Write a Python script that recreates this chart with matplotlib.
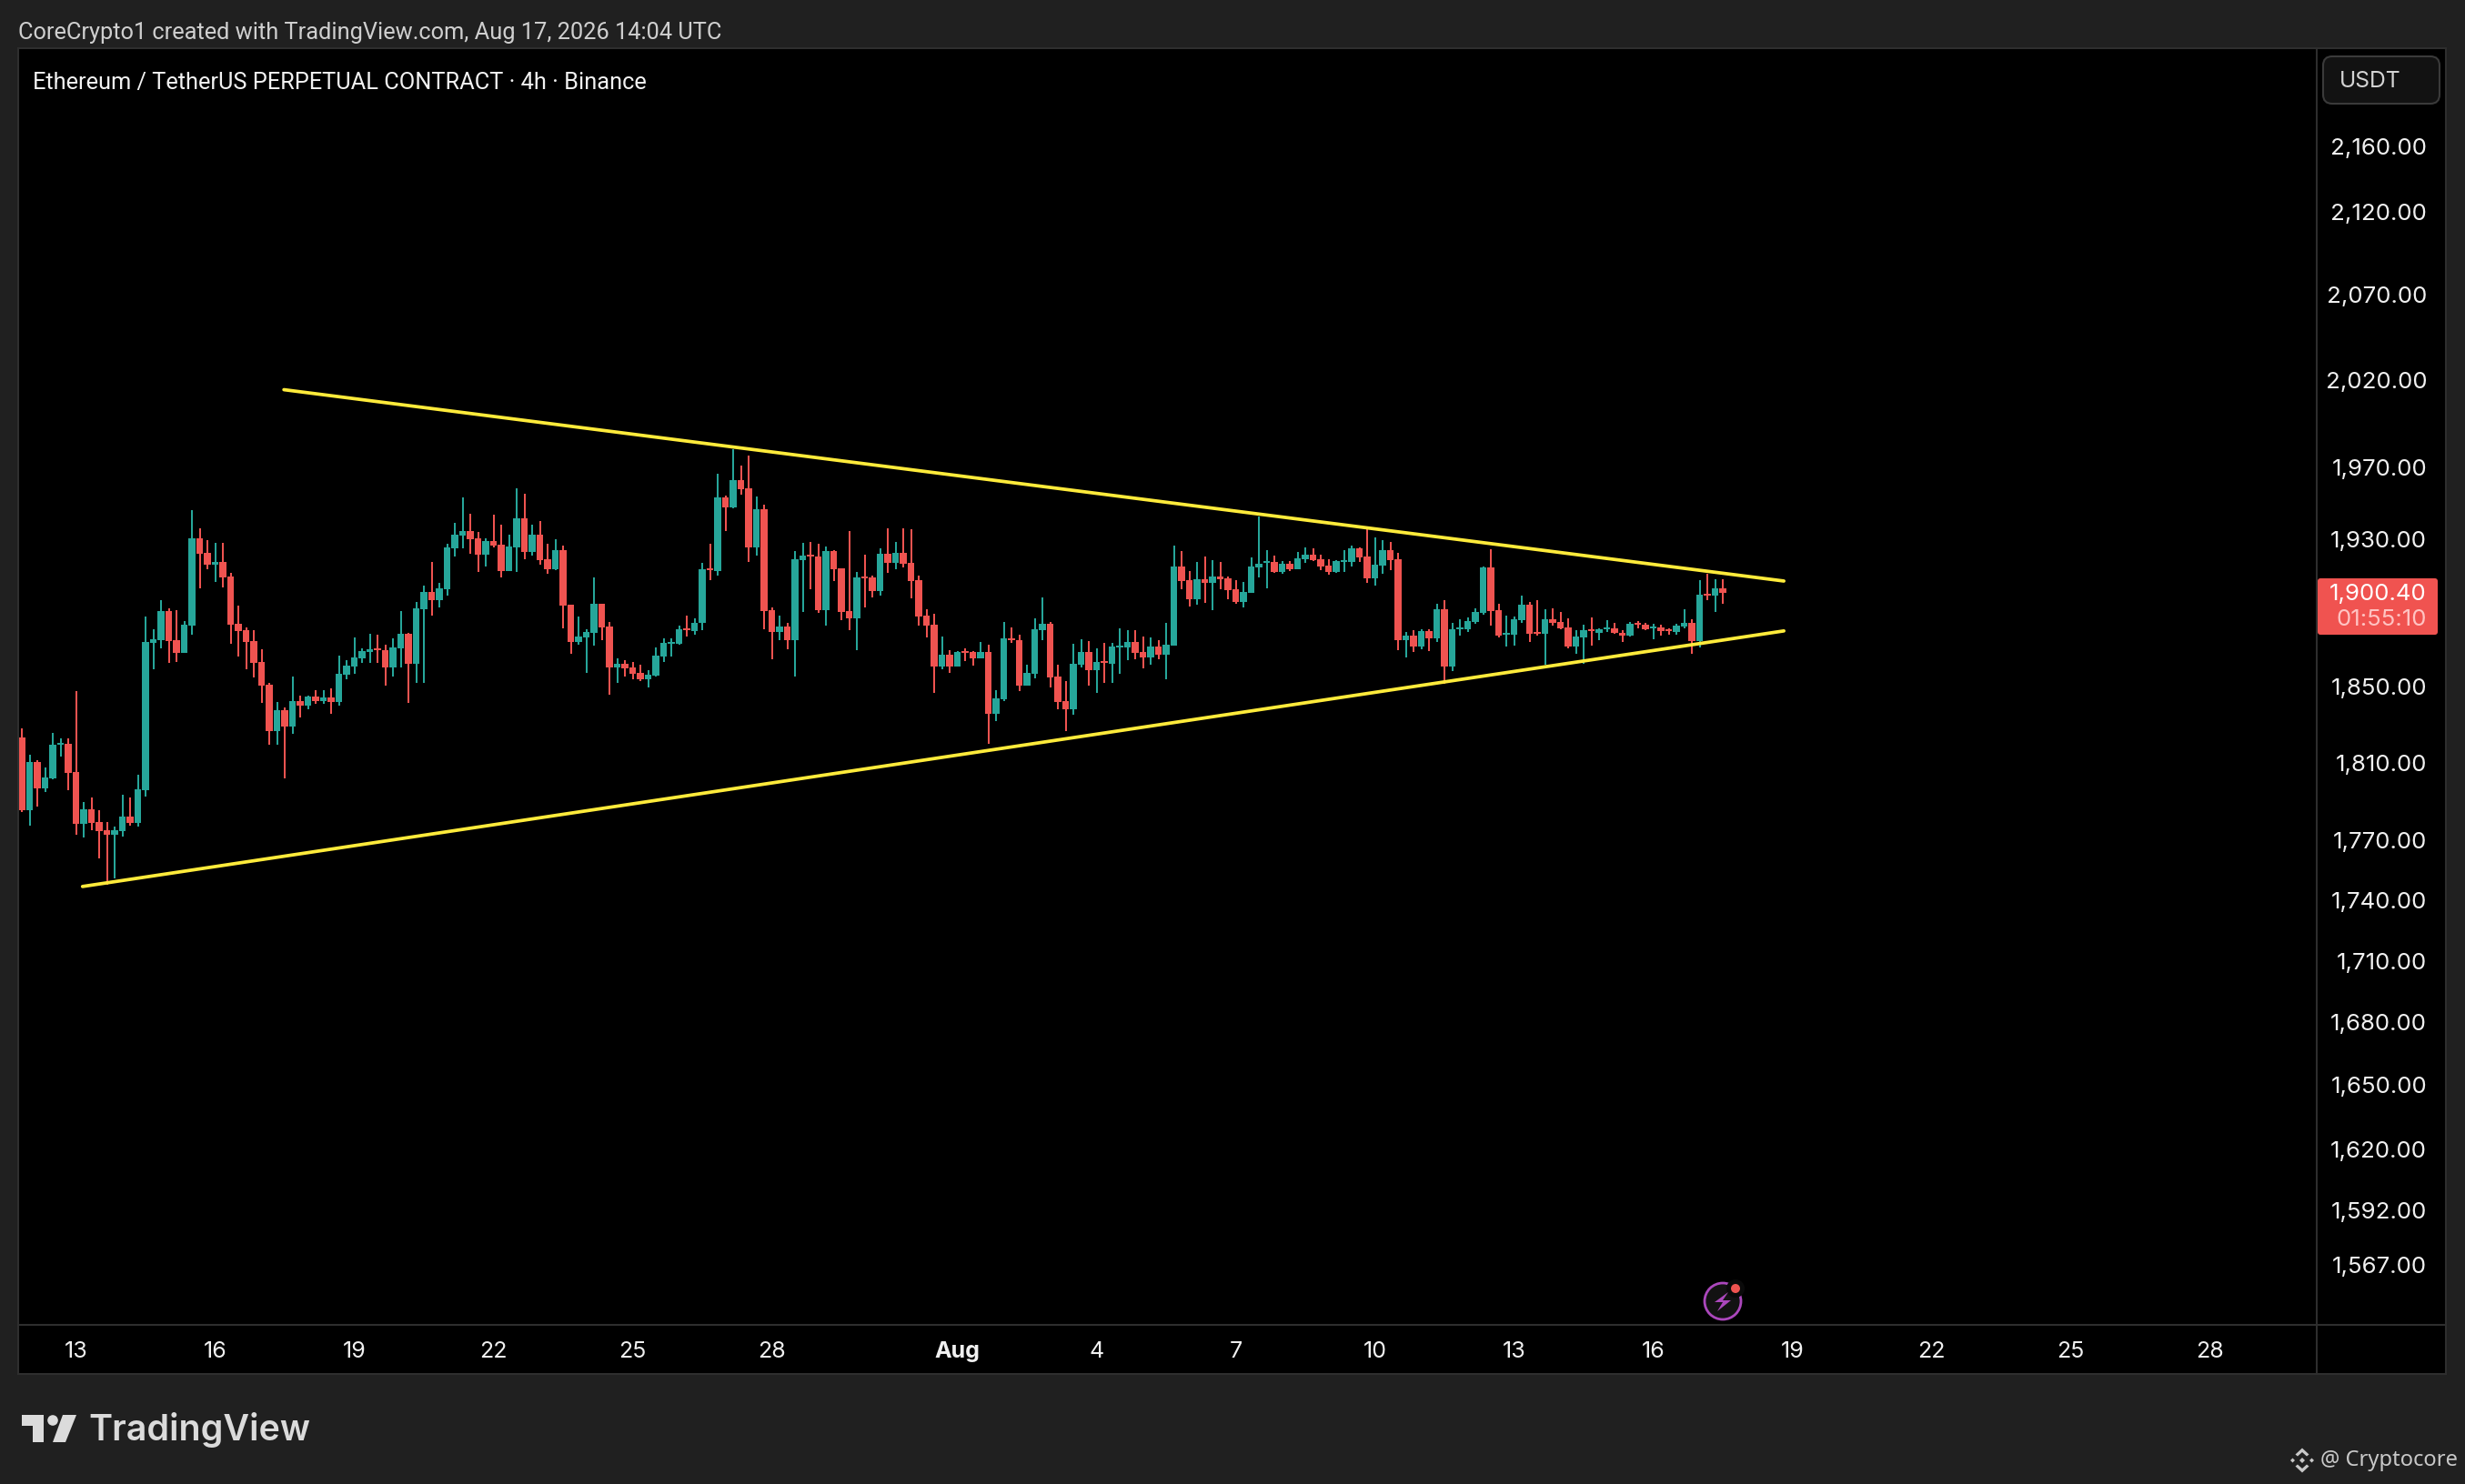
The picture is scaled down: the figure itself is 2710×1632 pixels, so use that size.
import matplotlib
matplotlib.use("Agg")
import matplotlib.pyplot as plt
from matplotlib.patches import FancyBboxPatch, Polygon, Circle, Rectangle
from matplotlib.lines import Line2D
import numpy as np

plt.rcParams['font.family'] = ['Inter', 'DejaVu Sans']

# ---- data: 4h candles (price in USDT) ----
directions = ("RGRGGGRRGR" "RRGGRGGGGR" "RGGRRGRRRR" "RRRGRGRGRG" "RGGGGGRRGG"
              "RGGRGGGGRR" "GRRGGRGRRG" "RRGGGRRGRR" "RGGGGGRGGR" "GRGRRGRRGR"
              "GGRRGRRRGR" "RGRGRRRRRG" "RGRRGRGGRR" "GGGRRRGGRG" "RGGGRRGRGG"
              "RRGRGRRRGG" "GGRGRGGRRR" "GGGRRGGRRG" "RGRGRGGGGG" "RRGGGRRGRR"
              "RGGRGGRRGR" "RGRRGGRGRGR")

wick_high = [
 1827.8,1814.1,1811.3,1807.5,1825.5,1822.6,1822.6,1847.5,1789.8,1792.1,
 1785.6,1779.6,1777.2,1793.5,1792.1,1803.8,1887.5,1880.6,1896.4,1892.0,
 1891.0,1885.1,1946.0,1935.9,1929.3,1927.8,1927.8,1911.3,1893.4,1881.6,
 1880.1,1869.9,1851.9,1841.7,1838.9,1855.2,1845.1,1845.1,1848.0,1848.0,
 1849.0,1866.4,1864.0,1876.2,1870.3,1878.2,1877.7,1872.3,1875.7,1890.5,
 1878.7,1895.4,1904.3,1917.3,1905.8,1927.3,1938.9,1953.1,1943.9,1933.9,
 1930.3,1943.4,1937.9,1932.3,1958.2,1955.2,1937.9,1939.9,1927.3,1929.8,
 1926.3,1893.9,1887.5,1880.6,1908.8,1894.4,1884.6,1865.0,1864.0,1863.0,
 1861.5,1858.6,1870.8,1875.7,1875.7,1882.6,1888.0,1886.5,1916.8,1927.3,
 1966.4,1954.1,1980.3,1971.0,1976.7,1953.6,1949.0,1892.4,1888.0,1884.1,
 1923.3,1927.8,1928.3,1927.3,1925.8,1923.8,1913.8,1934.4,1911.8,1921.3,
 1909.8,1924.8,1935.9,1928.3,1935.9,1935.4,1909.8,1891.5,1889.0,1876.7,
 1869.4,1868.9,1870.3,1868.9,1873.8,1872.3,1848.0,1884.6,1881.6,1877.7,
 1861.5,1886.5,1897.9,1884.6,1861.5,1852.8,1872.8,1875.2,1874.3,1870.3,
 1873.3,1873.3,1881.1,1880.1,1880.1,1876.7,1876.2,1874.7,1884.1,1926.3,
 1923.3,1912.3,1917.3,1920.3,1918.3,1917.3,1909.3,1907.3,1906.3,1919.8,
 1942.4,1923.8,1920.8,1917.8,1917.8,1922.8,1925.3,1924.8,1921.3,1918.8,
 1918.3,1923.8,1926.3,1925.3,1936.9,1931.0,1929.3,1928.3,1922.3,1879.1,
 1880.1,1880.6,1880.6,1894.4,1896.4,1884.1,1886.1,1887.0,1892.0,1914.8,
 1924.3,1894.4,1888.0,1887.5,1898.8,1895.4,1896.4,1891.5,1892.0,1890.0,
 1886.5,1880.1,1883.1,1887.0,1881.1,1885.6,1884.1,1880.1,1884.6,1885.1,
 1884.1,1883.6,1883.1,1881.1,1883.6,1891.5,1886.1,1907.3,1910.8,1907.8,1907.8]

body_top = [
 1823.1,1810.3,1810.3,1802.4,1819.4,1820.2,1819.8,1805.2,1786.1,1786.1,
 1779.6,1775.4,1775.4,1782.3,1782.3,1796.3,1873.8,1875.2,1890.5,1890.5,
 1874.7,1883.1,1930.3,1930.3,1922.3,1917.3,1917.3,1909.3,1883.6,1880.1,
 1874.3,1863.0,1850.9,1837.4,1837.4,1842.2,1842.2,1844.6,1844.6,1844.1,
 1844.1,1856.7,1861.0,1865.4,1868.9,1869.9,1870.3,1869.4,1870.8,1878.2,
 1878.2,1892.0,1900.8,1900.8,1902.8,1925.3,1932.3,1934.4,1934.4,1930.3,
 1928.8,1928.8,1926.8,1925.8,1941.4,1941.4,1932.3,1932.3,1918.8,1923.8,
 1923.8,1893.9,1876.7,1879.1,1894.4,1894.4,1882.1,1862.0,1862.0,1860.1,
 1857.2,1856.2,1866.4,1873.3,1873.8,1880.6,1881.1,1884.1,1913.3,1913.8,
 1953.1,1953.1,1962.8,1962.8,1958.2,1946.5,1946.5,1891.0,1882.1,1882.1,
 1918.8,1920.8,1921.3,1920.3,1923.3,1923.3,1913.8,1890.5,1908.8,1909.3,
 1908.8,1921.8,1921.8,1922.3,1922.3,1916.8,1907.3,1888.0,1883.1,1866.9,
 1866.9,1868.4,1868.9,1868.4,1868.4,1868.4,1843.7,1875.7,1875.7,1874.7,
 1857.2,1880.6,1883.6,1883.6,1855.2,1842.2,1862.0,1868.4,1868.4,1863.0,
 1863.5,1871.3,1871.8,1873.8,1873.8,1868.4,1871.3,1871.3,1872.3,1915.0,
 1915.0,1907.3,1907.8,1907.8,1909.3,1909.3,1908.3,1902.3,1900.8,1914.8,
 1916.3,1917.8,1917.3,1916.3,1916.3,1919.3,1921.3,1921.3,1918.8,1915.3,
 1917.8,1918.3,1924.8,1924.8,1920.3,1915.8,1923.8,1923.8,1918.8,1877.2,
 1877.2,1879.6,1879.6,1891.5,1891.5,1880.6,1881.6,1885.1,1890.0,1914.3,
 1914.3,1891.0,1878.7,1886.1,1893.9,1893.9,1879.1,1886.1,1886.1,1884.6,
 1881.6,1876.7,1880.1,1880.6,1880.6,1881.6,1881.1,1878.7,1883.6,1884.1,
 1883.1,1882.1,1881.6,1880.6,1882.6,1884.1,1884.1,1899.3,1899.8,1902.8,1902.8]

body_bottom = [
 1785.6,1785.6,1796.7,1796.7,1801.9,1819.4,1804.7,1778.6,1778.6,1779.1,
 1774.9,1773.1,1773.1,1774.9,1779.1,1779.1,1795.8,1873.3,1874.7,1874.3,
 1867.9,1867.9,1882.6,1921.8,1915.8,1915.8,1908.8,1883.1,1879.7,1873.8,
 1862.5,1850.4,1826.4,1826.4,1828.8,1828.8,1839.8,1839.8,1842.2,1842.2,
 1841.7,1841.7,1856.2,1860.6,1865.0,1868.4,1869.4,1860.1,1860.1,1870.3,
 1862.0,1862.0,1891.5,1896.4,1896.4,1902.3,1924.8,1931.8,1929.8,1921.3,
 1921.3,1926.3,1912.3,1912.3,1925.3,1922.8,1922.8,1918.3,1913.3,1913.3,
 1893.4,1873.8,1873.8,1876.2,1878.7,1881.6,1860.1,1860.1,1859.6,1856.7,
 1853.8,1853.8,1855.7,1866.0,1872.8,1872.8,1880.1,1879.7,1884.1,1912.8,
 1912.3,1947.5,1947.5,1957.7,1925.3,1925.3,1890.5,1879.1,1879.1,1874.7,
 1874.7,1918.3,1920.3,1891.0,1891.0,1913.3,1890.0,1886.5,1886.5,1908.3,
 1901.3,1901.3,1916.8,1916.8,1916.3,1906.8,1887.5,1882.6,1860.6,1860.6,
 1860.6,1860.6,1867.9,1865.0,1865.0,1835.5,1835.5,1843.2,1874.7,1850.4,
 1850.4,1856.7,1880.1,1854.8,1841.7,1837.9,1837.9,1861.5,1858.6,1858.6,
 1862.5,1862.0,1870.8,1870.8,1867.9,1865.4,1865.4,1866.9,1866.9,1871.8,
 1906.8,1896.9,1896.9,1905.8,1905.8,1907.8,1901.8,1895.4,1895.4,1900.3,
 1914.3,1916.8,1911.8,1911.8,1913.3,1913.3,1918.8,1918.3,1914.8,1911.8,
 1911.8,1917.3,1917.3,1919.8,1908.3,1908.3,1915.3,1918.3,1874.7,1874.7,
 1871.3,1871.3,1875.7,1875.7,1860.6,1860.6,1880.6,1880.6,1884.6,1889.5,
 1890.5,1877.2,1877.7,1877.7,1885.6,1878.2,1878.2,1878.2,1884.1,1881.1,
 1871.3,1871.3,1876.2,1879.6,1878.7,1880.6,1878.7,1877.2,1877.2,1883.1,
 1880.6,1881.1,1879.6,1879.6,1879.1,1882.1,1874.3,1874.3,1898.8,1898.8,1900.4]

wick_low = [
 1784.7,1777.7,1787.4,1794.9,1801.4,1813.1,1795.8,1773.1,1771.7,1775.4,
 1761.1,1747.6,1750.9,1772.2,1777.7,1777.2,1792.6,1859.1,1870.3,1862.5,
 1863.0,1867.9,1877.7,1902.8,1913.3,1906.3,1903.3,1872.8,1866.0,1859.1,
 1854.8,1841.3,1819.4,1819.4,1801.9,1825.0,1833.6,1837.9,1840.8,1840.8,
 1835.5,1839.8,1853.8,1856.7,1862.5,1862.5,1862.5,1850.4,1855.2,1860.1,
 1841.3,1851.9,1851.9,1888.0,1892.4,1898.8,1920.3,1924.8,1921.8,1911.8,
 1914.8,1925.3,1908.8,1912.3,1911.8,1918.8,1920.8,1915.8,1910.8,1912.8,
 1881.1,1867.4,1872.3,1857.2,1871.8,1874.7,1845.6,1851.9,1855.2,1853.8,
 1852.8,1849.4,1855.2,1863.0,1866.0,1872.3,1876.7,1877.7,1880.1,1907.3,
 1909.8,1934.4,1947.0,1954.7,1917.3,1920.8,1880.6,1864.4,1874.7,1869.9,
 1855.2,1890.0,1902.3,1889.5,1882.6,1906.8,1885.6,1880.1,1869.4,1892.4,
 1897.9,1898.8,1911.3,1913.3,1914.3,1897.4,1882.6,1876.2,1846.6,1859.1,
 1857.2,1860.6,1863.5,1861.0,1865.0,1819.8,1831.6,1842.2,1873.3,1847.5,
 1850.4,1854.3,1874.7,1849.4,1837.9,1826.4,1835.0,1860.1,1850.4,1846.6,
 1851.9,1851.9,1856.7,1864.0,1864.4,1859.6,1861.5,1864.4,1853.8,1871.8,
 1902.3,1893.0,1893.9,1894.9,1891.0,1902.3,1896.9,1894.4,1892.4,1900.3,
 1908.8,1902.8,1911.3,1910.8,1912.3,1913.3,1916.8,1917.8,1912.8,1910.3,
 1911.3,1911.8,1914.8,1917.3,1905.8,1904.3,1910.8,1912.8,1869.4,1865.4,
 1868.4,1869.9,1868.9,1873.8,1851.4,1858.1,1877.2,1879.1,1883.6,1888.5,
 1882.6,1876.2,1871.3,1871.8,1884.1,1873.8,1877.2,1861.5,1882.6,1880.6,
 1870.3,1867.4,1862.0,1871.8,1874.7,1879.1,1878.2,1873.8,1876.7,1881.1,
 1880.1,1875.2,1877.2,1877.7,1877.7,1881.1,1867.4,1870.8,1896.4,1890.0,1894.4]

# two trend lines: (candle position, price) of their two ends
upper_x, upper_p = [33.9, 227.9], [2014.4, 1906.8]
lower_x, lower_p = [7.85, 227.9], [1746.8, 1879.7]

price_ticks = [2160, 2120, 2070, 2020, 1970, 1930, 1850, 1810, 1770, 1740,
               1710, 1680, 1650, 1620, 1592, 1567]
date_pos = [7, 25, 43, 61, 79, 97, 121, 139, 157, 175, 193, 211, 229, 247, 265, 283]
date_labels = ['13', '16', '19', '22', '25', '28', 'Aug', '4', '7', '10', '13',
               '16', '19', '22', '25', '28']
last_price = "1,900.40"
countdown = "01:55:10"

# ---- layout ----
W, H = 2710, 1632
BG, LINE = '#202020', '#2e2e2e'
RED, GREEN, YELLOW = '#ef5350', '#26a69a', '#ffeb3b'
fig = plt.figure(figsize=(W / 100, H / 100), dpi=100, facecolor=BG)

def rect(x0, y0, x1, y1):
    return [x0 / W, 1 - y1 / H, (x1 - x0) / W, (y1 - y0) / H]

# back layer: panes and their borders, in figure pixels
back = fig.add_axes([0, 0, 1, 1], zorder=0)
back.set_xlim(0, W); back.set_ylim(H, 0); back.axis('off')
back.add_patch(Rectangle((20, 53), 2669, 1458, fc='black', ec=LINE, lw=1.5))
back.add_line(Line2D([2547, 2547], [53, 1511], color=LINE, lw=1.5))
back.add_line(Line2D([20, 2689], [1457, 1457], color=LINE, lw=1.5))

# main chart
PX_L, PX_R, PX_T, PX_B = 21, 2546, 54, 1456
ax = fig.add_axes(rect(PX_L, PX_T, PX_R, PX_B), zorder=1)
ax.patch.set_alpha(0)
ax.set_yscale('log')
ax.set_xlim((PX_L - 24) / 8.5, (PX_R - 24) / 8.5)
ax.set_ylim(1977.2 * np.exp(-(PX_B - 500) / 3833), 1977.2 * np.exp(-(PX_T - 500) / 3833))
for s in ax.spines.values():
    s.set_visible(False)

x = np.arange(len(directions))
colors = [GREEN if d == 'G' else RED for d in directions]
top, bot = np.array(body_top), np.array(body_bottom)
ax.vlines(x, wick_low, wick_high, colors=colors, lw=1.44, zorder=2)
ax.bar(x, top - bot, bottom=bot, width=0.94, color=colors, lw=0, zorder=3)
ax.plot(upper_x, upper_p, color=YELLOW, lw=2.7, solid_capstyle='round', zorder=4)
ax.plot(lower_x, lower_p, color=YELLOW, lw=2.7, solid_capstyle='round', zorder=4)

ax.yaxis.set_major_locator(matplotlib.ticker.FixedLocator(price_ticks))
ax.yaxis.set_minor_locator(matplotlib.ticker.NullLocator())
ax.yaxis.tick_right()
ax.set_yticklabels([f"{p:,.2f}" for p in price_ticks])
ax.tick_params(axis='y', which='both', length=0, pad=88, labelsize=18.6, labelcolor='#f0f0f0')
for t in ax.get_yticklabels():
    t.set_ha('right')
ax.set_xticks(date_pos)
ax.set_xticklabels(date_labels)
ax.tick_params(axis='x', length=0, pad=13.5, labelsize=18, labelcolor='#f0f0f0')
ax.get_xticklabels()[date_labels.index('Aug')].set_fontweight('bold')

# front layer: header, badges, logo
top_ax = fig.add_axes([0, 0, 1, 1], zorder=2)
top_ax.set_xlim(0, W); top_ax.set_ylim(H, 0); top_ax.axis('off')
top_ax.patch.set_alpha(0)

top_ax.text(20, 36, "CoreCrypto1 created with TradingView.com, Aug 17, 2026 14:04 UTC",
            color='#cfcfcf', fontsize=18.3, va='center', ha='left', family=['Roboto', 'DejaVu Sans'])
top_ax.text(36, 91, "Ethereum / TetherUS PERPETUAL CONTRACT · 4h · Binance",
            color='#f2f2f2', fontsize=18.3, va='center', ha='left', family=['Roboto', 'DejaVu Sans'])

top_ax.add_patch(FancyBboxPatch((2560, 68), 116, 40, boxstyle="round,pad=6,rounding_size=10",
                                fc='#121212', ec='#3a3a3a', lw=1.5))
top_ax.text(2572, 89.5, "USDT", color='#d4d4d4', fontsize=17.8, va='center', ha='left')

top_ax.add_patch(FancyBboxPatch((2548, 636), 132, 62, boxstyle="round,pad=0,rounding_size=3",
                                fc='#f05350', ec='none'))
top_ax.text(2668, 653.5, last_price, color='white', fontsize=18.6, va='center', ha='right')
top_ax.text(2668, 681, countdown, color='#ffc4c3', fontsize=18.6, va='center', ha='right')

# alert icon
top_ax.add_patch(Circle((1894, 1431), 20, fc='#121212', ec='#ab47bc', lw=2))
top_ax.add_patch(Circle((1908, 1417), 10, fc='#0a0a0a', ec='none'))
top_ax.add_patch(Circle((1908, 1417), 5, fc=RED, ec='none'))
top_ax.add_patch(Polygon([(1900, 1421), (1885, 1432), (1894, 1432), (1888, 1442),
                          (1903, 1430), (1894, 1430)], fc='#ab47bc', ec='none'))

# TradingView logo
LOGO = '#dbdbdb'
top_ax.add_patch(Polygon([(24, 1556), (48, 1556), (48, 1586), (36, 1586), (36, 1568), (24, 1568)],
                         fc=LOGO, ec='none'))
top_ax.add_patch(Circle((58, 1562), 5.8, fc=LOGO, ec='none'))
top_ax.add_patch(Polygon([(69, 1556), (84, 1556), (72, 1586), (58, 1586)], fc=LOGO, ec='none'))
top_ax.text(97, 1572, "TradingView", color=LOGO, fontsize=28.4, fontweight='semibold',
            va='center', ha='left')

# watermark
WM = '#c8c8c8'
top_ax.text(2551, 1606, "@ Cryptocore", color=WM, fontsize=17.1, va='center', ha='left',
            family=['Noto Sans', 'DejaVu Sans'])
cx, cy = 2531, 1606
for dx, dy, r in [(0, 0, 3), (-10.5, 0, 2.5), (10.5, 0, 2.5)]:
    top_ax.add_patch(Polygon([(cx + dx - r, cy + dy), (cx + dx, cy + dy - r),
                              (cx + dx + r, cy + dy), (cx + dx, cy + dy + r)], fc=WM, ec='none'))
for sign in (-1, 1):
    top_ax.add_patch(Polygon([(cx - 7.5, cy + sign * 6.5), (cx, cy + sign * 13.5), (cx + 7.5, cy + sign * 6.5),
                              (cx + 5, cy + sign * 4.5), (cx, cy + sign * 9), (cx - 5, cy + sign * 4.5)],
                             fc=WM, ec='none'))

fig.savefig('out.png', dpi=100, facecolor=BG)
